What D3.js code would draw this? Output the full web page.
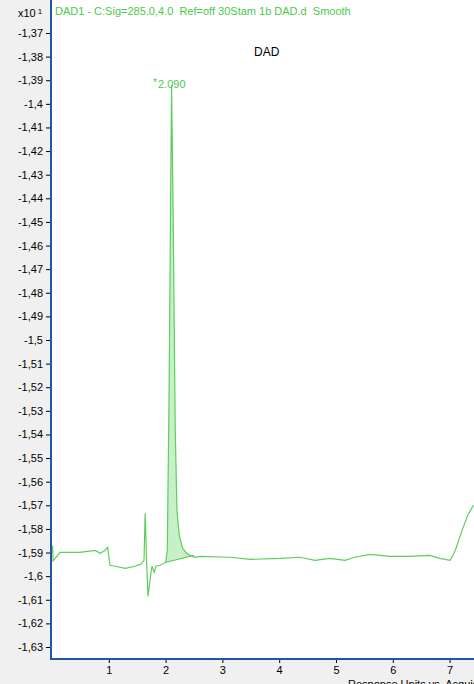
<!DOCTYPE html><html><head><meta charset="utf-8"><script src="https://cdn.jsdelivr.net/npm/d3@7"></script>
<style>body{margin:0;background:#f0f0f0}svg{display:block;font-family:"Liberation Sans",Arial,sans-serif}</style></head><body><svg id="c" width="474" height="684"></svg><script>
const times=[0,0.01,0.02,0.14,0.49,0.76,0.85,0.93,0.98,1.02,1.11,1.29,1.46,1.55,1.58,1.62,1.64,1.665,1.69,1.73,1.76,1.80,1.83,1.90,2.00,2.03,2.06,2.105,2.13,2.17,2.20,2.24,2.30,2.37,2.43,2.52,2.61,3.13,3.49,4.01,4.37,4.63,4.89,5.16,5.33,5.60,5.95,6.30,6.65,6.83,7.01,7.10,7.22,7.32,7.42];
const response=[-1.5903,-1.5870,-1.5935,-1.5899,-1.5899,-1.5891,-1.5903,-1.5891,-1.5878,-1.5954,-1.5958,-1.5967,-1.5958,-1.5950,-1.5946,-1.5933,-1.5734,-1.5933,-1.6086,-1.6009,-1.5958,-1.5984,-1.5958,-1.5954,-1.5942,-1.5891,-1.5255,-1.3920,-1.4408,-1.5382,-1.5721,-1.5827,-1.5882,-1.5903,-1.5912,-1.5920,-1.5916,-1.5920,-1.5929,-1.5925,-1.5920,-1.5933,-1.5925,-1.5933,-1.5920,-1.5908,-1.5916,-1.5916,-1.5912,-1.5925,-1.5933,-1.5891,-1.5806,-1.5742,-1.5700];
const peakStart=[2.00,-1.5942], peakEnd=[2.50,-1.5912];
const yTicks=d3.range(27).map(i=>+(-1.37-i*0.01).toFixed(2));
const xTicks=[1,2,3,4,5,6,7];
const svg=d3.select("#c");
const x=d3.scaleLinear().domain([0,7.43]).range([52,474]);
const y=d3.scaleLinear().domain([-1.37,-1.63]).range([33,647]);
svg.append("rect").attr("x",52).attr("y",0).attr("width",422).attr("height",658).attr("fill","#fff");
const pts=times.map((t,i)=>[t,response[i]]);
const base=t=>peakStart[1]+(peakEnd[1]-peakStart[1])*(t-peakStart[0])/(peakEnd[0]-peakStart[0]);
const inPk=pts.filter(p=>p[0]>=peakStart[0]&&p[0]<=peakEnd[0]);
svg.append("path").datum(inPk).attr("fill","#c8f0c8").attr("stroke","none")
 .attr("d",d3.area().x(d=>x(d[0])).y0(d=>y(base(d[0]))).y1(d=>y(d[1])));
svg.append("line").attr("x1",x(peakStart[0])).attr("y1",y(peakStart[1])).attr("x2",x(peakEnd[0])).attr("y2",y(peakEnd[1])).attr("stroke","#4cc84c").attr("stroke-width",1);
svg.append("path").datum(pts).attr("fill","none").attr("stroke","#5ccf5c").attr("stroke-width",1.2)
 .attr("d",d3.line().x(d=>x(d[0])).y(d=>y(d[1])));
const fmt=v=>String(v).replace(".",",");
const ya=svg.append("g").attr("transform","translate(51,0)").call(d3.axisLeft(y).tickValues(yTicks).tickFormat(fmt).tickSize(5));
ya.select(".domain").remove();
ya.selectAll("text").attr("font-size",11).attr("fill","#000").attr("font-family","Liberation Sans,Arial");
const xa=svg.append("g").attr("transform","translate(0,658)").call(d3.axisBottom(x).tickValues(xTicks).tickFormat(d3.format("d")).tickSize(5));
xa.select(".domain").remove();
xa.selectAll("text").attr("font-size",11).attr("fill","#000").attr("font-family","Liberation Sans,Arial");
svg.append("line").attr("x1",51).attr("x2",51).attr("y1",0).attr("y2",659).attr("stroke","#2255aa").attr("stroke-width",2);
svg.append("line").attr("x1",50).attr("x2",474).attr("y1",659).attr("y2",659).attr("stroke","#2255aa").attr("stroke-width",2);
const tx=svg.append("text").attr("x",18).attr("y",17).attr("font-size",11);
tx.append("tspan").text("x10");tx.append("tspan").attr("dy",-3).attr("dx",2).attr("font-size",8).text("1");
svg.append("text").attr("x",55).attr("y",15).attr("font-size",11).attr("fill","#4cc84c").style("white-space","pre").text("DAD1 - C:Sig=285.0,4.0  Ref=off 30Stam 1b DAD.d  Smooth");
svg.append("text").attr("x",254).attr("y",56).attr("font-size",12).text("DAD");
svg.append("text").attr("x",153).attr("y",86).attr("font-size",10).attr("fill","#4cc84c").text("*");
svg.append("text").attr("x",158).attr("y",88).attr("font-size",11).attr("fill","#4cc84c").text("2.090");
svg.append("text").attr("x",348).attr("y",688).attr("font-size",11).text("Response Units vs. Acquisition Time (min)");
</script></body></html>
